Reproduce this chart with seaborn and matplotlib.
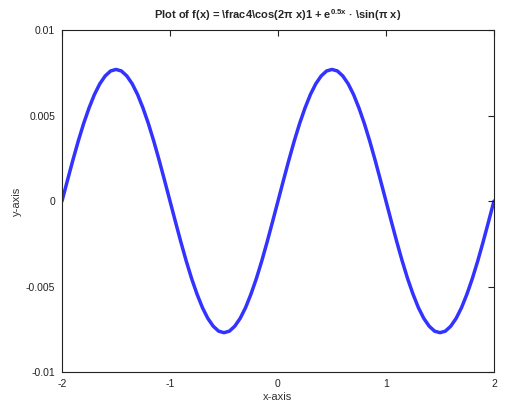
import numpy as np
import pandas as pd
import seaborn as sns
import matplotlib
matplotlib.use("Agg")
import matplotlib.pyplot as plt

# values (step 0.05 on x)
x_vals = [round(-2 + 0.05 * i, 2) for i in range(81)]
quarter = [0.0, 0.00120, 0.00238, 0.00350, 0.00453, 0.00544, 0.00623,
           0.00686, 0.00732, 0.00761, 0.0077]
# one full period (x = -2 .. 0) read piecewise, then repeated pattern (x = 0 .. 2)
rise = quarter + quarter[-2::-1]            # -2.0 .. -1.0
fall = [-v for v in quarter[1:]] + [-v for v in quarter[-2::-1]]  # -0.95 .. 0.0
period = rise + fall
y_vals = period + period[1:]

xticks = [-2, -1, 0, 1, 2]
yticks = [-0.01, -0.005, 0, 0.005, 0.01]
ytick_labels = ["-0.01", "-0.005", "0", "0.005", "0.01"]

sns.set_theme(style="white")
plt.rcParams['font.family'] = ['Liberation Sans', 'DejaVu Sans']
plt.rcParams['mathtext.fontset'] = 'custom'
plt.rcParams['mathtext.bf'] = 'Liberation Sans:bold'
plt.rcParams['mathtext.rm'] = 'Liberation Sans'

fig = plt.figure(figsize=(5.3, 4.07), dpi=100)
ax = fig.add_axes([0.117, 0.086, 0.815, 0.840])

df = pd.DataFrame({"x": x_vals, "y": y_vals})
sns.lineplot(data=df, x="x", y="y", ax=ax, color=(0.0, 0.0, 1.0), alpha=0.8,
             linewidth=2.5, sort=False)

ax.set_xlim(-2, 2)
ax.set_ylim(-0.01, 0.01)
ax.set_xticks(xticks)
ax.set_xticklabels([str(t) for t in xticks])
ax.set_yticks(yticks)
ax.set_yticklabels(ytick_labels)
ax.tick_params(direction="in", length=4, width=0.8, top=True, right=True,
               labelsize=7.5, colors="#222222", pad=5)
for s in ax.spines.values():
    s.set_color("#222222")
    s.set_linewidth(0.8)
ax.set_xlabel("x-axis", fontsize=8, color="#333333", labelpad=2)
ax.set_ylabel("y-axis", fontsize=8, color="#333333", labelpad=3)
ax.set_title(r"Plot of f(x) = \frac4\cos(2π x)1 + e$^{\mathbf{0.5x}}$ · \sin(π x)",
             fontsize=8, fontweight="bold", pad=8)
ax.grid(False)

fig.savefig("out.png", dpi=100)
